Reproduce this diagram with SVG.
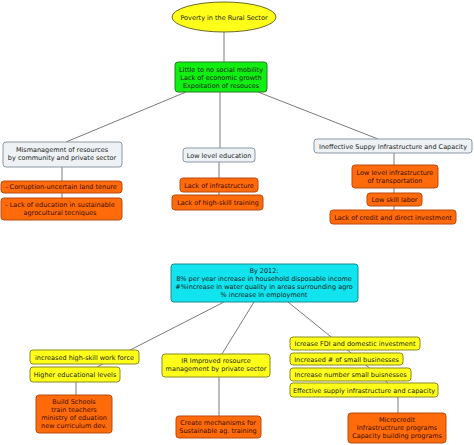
<svg xmlns="http://www.w3.org/2000/svg" width="474" height="445" viewBox="0 0 474 445">
<style>
text{font-family:"DejaVu Sans",Verdana,sans-serif;font-size:6.5px;text-anchor:middle;fill:#1a1a1a}
.gray rect{fill:#eef2f5;stroke:#8a98a4;stroke-width:1}
.org rect{fill:#ff6a0a;stroke:#b84a10;stroke-width:1}
.org text{fill:#3a0c00}
.yel rect{fill:#ffff1a;stroke:#8a8a20;stroke-width:1}
.conn line{stroke:#7a7a7a;stroke-width:1}
</style>
<rect width="474" height="445" fill="#ffffff"/>
<g id="connectors" class="conn">
<line x1="224" y1="32" x2="224" y2="62"/>
<line x1="186" y1="92" x2="66" y2="142"/>
<line x1="220" y1="92" x2="220" y2="148"/>
<line x1="258" y1="92" x2="378" y2="139"/>
<line x1="62" y1="167" x2="62" y2="198"/>
<line x1="219" y1="162" x2="219" y2="195"/>
<line x1="394" y1="153" x2="394" y2="210"/>
<line x1="224" y1="302" x2="97" y2="367"/>
<line x1="254" y1="302" x2="222" y2="354"/>
<line x1="288" y1="302" x2="388" y2="383"/>
<line x1="76" y1="382" x2="76" y2="395"/>
<line x1="219" y1="377" x2="219" y2="416"/>
<line x1="398" y1="397" x2="398" y2="413"/>
</g>
<g id="poverty">
<ellipse cx="224" cy="17" rx="52" ry="15" fill="#ffff1a" stroke="#6a6a20" stroke-width="1"/>
<text x="224" y="19.5">Poverty in the Rural Sector</text>
</g>
<g id="core">
<rect x="175" y="62" width="92" height="30" rx="3" fill="#11ee11" stroke="#2a7a2a" stroke-width="1"/>
<text x="221" y="72">Little to no social mobility</text>
<text x="221" y="80">Lack of economic growth</text>
<text x="221" y="88">Expoitation of resouces</text>
</g>
<g id="mismanagement" class="gray">
<rect x="3" y="142" width="119" height="25" rx="3"/>
<text x="62" y="152">Mismanagemnt of resources</text>
<text x="62" y="160">by community and private sector</text>
</g>
<g id="corruption" class="org">
<rect x="1" y="181" width="121" height="12" rx="3"/>
<text x="61" y="189.3">- Corruption-uncertain land tenure</text>
</g>
<g id="lackedu" class="org">
<rect x="1" y="198" width="121" height="22" rx="3"/>
<text x="60" y="207">- Lack of education in sustainable</text>
<text x="60" y="215">agrocultural tecniques</text>
</g>
<g id="lowedu" class="gray">
<rect x="183" y="148" width="72" height="14" rx="3"/>
<text x="219" y="157.5">Low level education</text>
</g>
<g id="lackinfra" class="org">
<rect x="180" y="178" width="78" height="14" rx="3"/>
<text x="219" y="187.5">Lack of infrastructure</text>
</g>
<g id="lackskill" class="org">
<rect x="172" y="195" width="91" height="15" rx="3"/>
<text x="218" y="204.5">Lack of high-skill training</text>
</g>
<g id="ineffective" class="gray">
<rect x="314" y="139" width="158" height="14" rx="3"/>
<text x="393" y="148.5">Ineffective Suppy Infrastructure and Capacity</text>
</g>
<g id="lowinfra" class="org">
<rect x="352" y="165" width="86" height="23" rx="3"/>
<text x="395" y="175">Low level infrastructure</text>
<text x="395" y="183">of transportation</text>
</g>
<g id="lowskill" class="org">
<rect x="367" y="193" width="55" height="13" rx="3"/>
<text x="394.5" y="202">Low skill labor</text>
</g>
<g id="lackcredit" class="org">
<rect x="330" y="210" width="126" height="14" rx="3"/>
<text x="393" y="219.5">Lack of credit and direct investment</text>
</g>
<g id="goal">
<rect x="171" y="264" width="187" height="38" rx="3" fill="#11e4ee" stroke="#1a8a90" stroke-width="1"/>
<text x="264" y="273">By 2012:</text>
<text x="264" y="281">8% per year increase in household disposable income</text>
<text x="264" y="289">#%increase in water quality in areas surrounding agro</text>
<text x="264" y="297">% increase in employment</text>
</g>
<g id="workforce" class="yel">
<rect x="30" y="350" width="109" height="14" rx="3"/>
<text x="84.5" y="359.5">increased high-skill work force</text>
</g>
<g id="higheredu" class="yel">
<rect x="30" y="367" width="90" height="15" rx="3"/>
<text x="75" y="376.5">Higher educational levels</text>
</g>
<g id="schools" class="org">
<rect x="36" y="395" width="76" height="38" rx="3"/>
<text x="74" y="404">Build Schools</text>
<text x="74" y="412">train teachers</text>
<text x="74" y="420">ministry of eduation</text>
<text x="74" y="428">new curriculum dev.</text>
</g>
<g id="ir" class="yel">
<rect x="162" y="354" width="108" height="23" rx="3"/>
<text x="216" y="363">IR Improved resource</text>
<text x="216" y="371">management by private sector</text>
</g>
<g id="mechanisms" class="org">
<rect x="176" y="416" width="85" height="22" rx="3"/>
<text x="218" y="425">Create mechanisms for</text>
<text x="218" y="433">Sustainable ag. training</text>
</g>
<g id="fdi" class="yel">
<rect x="290" y="337" width="130" height="13" rx="3"/>
<text x="355" y="346">Icrease FDI and domestic investment</text>
</g>
<g id="smallbiz1" class="yel">
<rect x="290" y="353" width="113" height="12" rx="3"/>
<text x="346.5" y="361.5">Increased # of small businesses</text>
</g>
<g id="smallbiz2" class="yel">
<rect x="290" y="368" width="121" height="13" rx="3"/>
<text x="350.5" y="377">Increase number small buisnesses</text>
</g>
<g id="effective" class="yel">
<rect x="290" y="383" width="148" height="14" rx="3"/>
<text x="364" y="392.5">Effective supply infrastructure and capacity</text>
</g>
<g id="microcredit" class="org">
<rect x="348" y="413" width="98" height="30" rx="3"/>
<text x="397" y="422">Microcredit</text>
<text x="397" y="430">Infrastructrure programs</text>
<text x="397" y="438">Capacity building programs</text>
</g>
</svg>
